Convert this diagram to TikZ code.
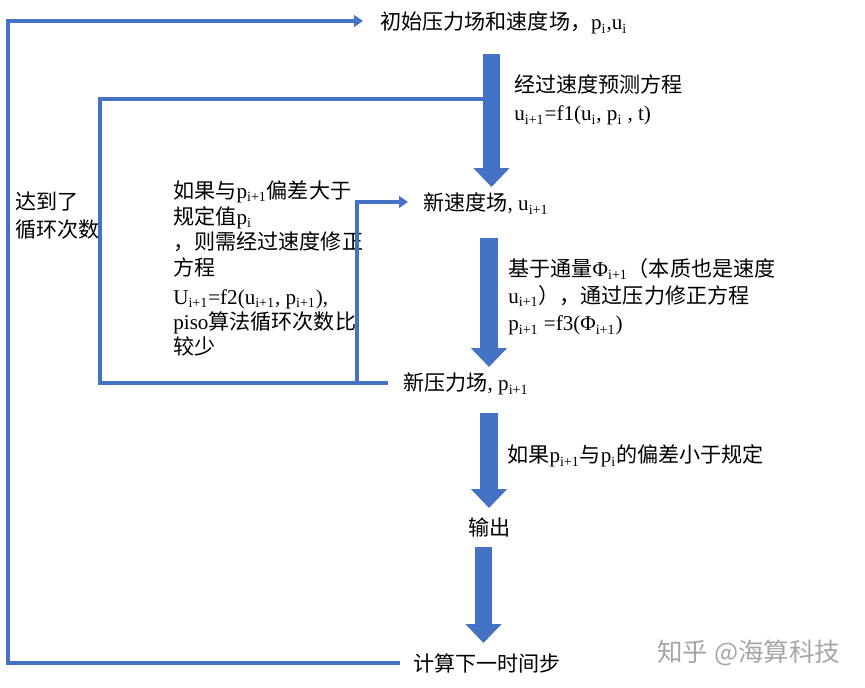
\documentclass[tikz,border=0pt]{standalone}
\usepackage{fontspec}
\setmainfont{Liberation Serif}
\newfontfamily\cjk{Noto Sans CJK SC}
\usetikzlibrary{arrows.meta,calc}

\definecolor{flowblue}{RGB}{68,114,196}
\newcommand{\zh}[1]{{\cjk #1}}
\newcommand{\sbs}[1]{\textsubscript{#1}}

\begin{document}
\begin{tikzpicture}[x=0.02cm,y=-0.02cm,
  flow/.style={draw=flowblue,line width=2.1pt},
  flowarrow/.style={flow,-{Triangle[length=5pt,width=6.5pt]}},
  bigarrow/.style={draw=flowblue,line width=9.7pt,-{Triangle[length=10.8pt,width=20pt]}},
  lbl/.style={anchor=base west,inner sep=0pt,align=left,font=\fontsize{12}{15.5}\selectfont}]

\useasboundingbox (0,0) rectangle (865,688);

% steps
\node[lbl] (init) at (380,30) {\zh{初始压力场和速度场，}p\sbs{i},u\sbs{i}};
\node[lbl] (newu) at (423,211) {\zh{新速度场}, u\sbs{i+1}};
\node[lbl] (newp) at (403,391) {\zh{新压力场}, p\sbs{i+1}};
\node[lbl] (out) at (468,536) {\zh{输出}};
\node[lbl] (next) at (413,671) {\zh{计算下一时间步}};

% notes (base = last line)
\node[lbl,font=\fontsize{12}{16}\selectfont] (pred) at (514,121)
  {\zh{经过速度预测方程}\\u\sbs{i+1}=f1(u\sbs{i}, p\sbs{i} , t)};
\node[lbl] (flux) at (508,331)
  {\zh{基于通量}Φ\sbs{i+1}\zh{（本质也是速度}\\u\sbs{i+1}\zh{），通过压力修正方程}\\p\sbs{i+1} =f3(Φ\sbs{i+1})};
\node[lbl] (cond) at (507,463) {\zh{如果}p\sbs{i+1}\zh{与}p\sbs{i}\zh{的偏差小于规定}};
\node[lbl,font=\fontsize{12}{14.5}\selectfont] (corr) at (173,355)
  {\zh{如果与}p\sbs{i+1}\zh{偏差大于}\\\zh{规定值}p\sbs{i}\\\zh{，则需经过速度修正}\\\zh{方程}\\[2pt]
   U\sbs{i+1}=f2(u\sbs{i+1}, p\sbs{i+1}),\\piso\zh{算法循环次数比}\\\zh{较少}};
\node[lbl,font=\fontsize{12}{16}\selectfont] (count) at (15,238) {\zh{达到了}\\\zh{循环次数}};
\node[lbl,font=\fontsize{14.5}{16}\selectfont,text=black!35] (mark) at (657,661) {\zh{知乎 @海算科技}};

% big arrows
\coordinate (a1s) at (491.5,54);
\coordinate (a1e) at (491.5,187);
\coordinate (a2s) at (489,238);
\coordinate (a2e) at (489,367);
\coordinate (a3s) at (489,413);
\coordinate (a3e) at (489,508);
\coordinate (a4s) at (483.5,547);
\coordinate (a4e) at (483.5,643);
\draw[bigarrow] (a1s)--(a1e);
\draw[bigarrow] (a2s)--(a2e);
\draw[bigarrow] (a3s)--(a3e);
\draw[bigarrow] (a4s)--(a4e);

% loops
\coordinate (tin) at ($(init.base west)+(-17,-9)$);
\coordinate (tout) at ($(next.base west)+(-13,-8)$);
\draw[flowarrow] (tout) -| (8,21) -- (tin);

\coordinate (uin) at ($(newu.base west)+(-15,-9)$);
\coordinate (pout) at ($(newp.base west)+(-15,-8)$);
\draw[flow] (483,99) -| (100,383) -- (pout);
\draw[flowarrow] (pout -| 357,0) |- (uin);

\end{tikzpicture}
\end{document}
